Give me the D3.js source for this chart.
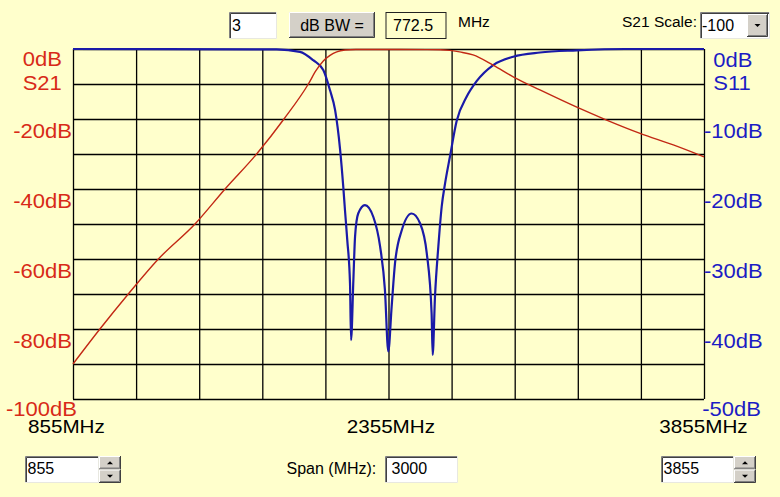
<!DOCTYPE html>
<html>
<head>
<meta charset="utf-8">
<script src="https://cdn.jsdelivr.net/npm/d3@7/dist/d3.min.js"></script>
<style>
html,body{margin:0;padding:0;background:#ffffcc;}
svg{display:block;font-family:"Liberation Sans",Arial,sans-serif;}
</style>
</head>
<body>
<svg id="c" width="780" height="497"></svg>
<script>
// ---------- data ----------
const freqStart = 855, freqStop = 3855, freqCenter = 2355, span = 3000;
const bwLevel = "3", bwValue = "772.5", s21Scale = "-100";
const freqLabels = ["855MHz", "2355MHz", "3855MHz"];
const freqLabelValues = [855, 2355, 3855];
const s21TickValues = [-20, -40, -60, -80];
const s11TickValues = [-10, -20, -30, -40];

const s21Freq = [855, 983, 1118, 1261, 1435, 1578, 1728, 1858, 1974, 2010, 2045, 2077, 2109, 2148, 2200, 2410, 2600, 2647, 2700, 2757, 2852, 2952, 3075, 3253, 3392, 3551, 3709, 3855];
const s21dB   = [-90.0, -80.0, -70.0, -60.0, -50.0, -40.0, -30.0, -20.0, -10.0, -6.2, -3.4, -1.8, -0.8, -0.3, -0.15, -0.15, -0.2, -0.4, -0.9, -1.7, -4.6, -8.1, -11.7, -16.7, -20.3, -24.1, -27.4, -30.8];

const s11Freq = [855, 1823, 1934, 1997, 2045, 2077, 2101, 2125, 2140, 2148, 2159, 2172, 2177, 2188, 2196, 2211, 2243, 2283, 2315, 2338, 2354, 2370, 2386, 2418, 2465, 2505, 2537, 2560, 2565, 2576, 2592, 2608, 2624, 2647, 2679, 2727, 2774, 2853, 2948, 3075, 3250, 3479, 3855];
const s11dB   = [0, -0.05, -0.4, -1.6, -3.0, -5.9, -8.7, -14.4, -19.7, -23, -27.3, -33.5, -41.6, -33, -26.8, -23.5, -22.3, -24.0, -28.2, -34.4, -43.2, -36.8, -30.6, -25.9, -23.5, -24.9, -29.2, -37.8, -43.7, -35.4, -28.2, -22.5, -19.2, -15.4, -10.3, -6.8, -4.6, -2.3, -1.1, -0.5, -0.2, 0, 0];

// ---------- layout ----------
const svg = d3.select("#c");
const L = 73, R = 704, T = 49, B = 399;
const x = d3.scaleLinear().domain([freqStart, freqStop]).range([L, R]);
const yL = d3.scaleLinear().domain([0, -100]).range([T, B]);
const yR = d3.scaleLinear().domain([0, -50]).range([T, B]);

const red = "#d82a18", redLine = "#c22814", blue = "#1c1cc4", blueLine = "#1a1aa8";

svg.append("rect").attr("width", 780).attr("height", 497).attr("fill", "#ffffcc");

function txt(x0, y0, s, size, color, anchor, sx) {
  return svg.append("text")
    .attr("transform", `translate(${x0},${y0}) scale(${sx || 1},1)`)
    .attr("text-anchor", anchor || "start")
    .attr("font-size", size)
    .attr("fill", color)
    .text(s);
}

// ---------- grid ----------
const gx = svg.append("g").attr("transform", `translate(0,${B})`)
  .call(d3.axisBottom(x).tickValues(d3.range(freqStart, freqStop + 1, span / 10)).tickSize(-(B - T)).tickFormat(""));
const gy = svg.append("g").attr("transform", `translate(${L},0)`)
  .call(d3.axisLeft(yL).tickValues(d3.range(0, -101, -10)).tickSize(-(R - L)).tickFormat(""));
[gx, gy].forEach(g => {
  g.select(".domain").remove();
  g.selectAll("line").attr("stroke", "#000").attr("stroke-width", 1.3);
});

// ---------- curves ----------
const lineS21 = d3.line().x((d, i) => x(s21Freq[i])).y(d => yL(d)).curve(d3.curveMonotoneX);
const lineS11 = d3.line().x((d, i) => x(s11Freq[i])).y(d => yR(d)).curve(d3.curveMonotoneX);
svg.append("path").attr("d", lineS11(s11dB)).attr("fill", "none").attr("stroke", blueLine).attr("stroke-width", 2.2).attr("stroke-linejoin", "round");
svg.append("path").attr("d", lineS21(s21dB)).attr("fill", "none").attr("stroke", redLine).attr("stroke-width", 1.4);

// ---------- labels ----------
txt(22.7, 66, "0dB", 20, red, "start", 1.1);
txt(22.7, 90, "S21", 20, red, "start", 1.1);
s21TickValues.forEach(v => txt(72, yL(v) + 19, v + "dB", 20, red, "end", 1.1));
txt(6, 415.5, "-100dB", 20, red, "start", 1.1);

txt(713.3, 66.5, "0dB", 20, blue, "start", 1.1);
txt(713.3, 90, "S11", 20, blue, "start", 1.1);
s11TickValues.forEach(v => txt(704, yR(v) + 18.5, v + "dB", 20, blue, "start", 1.1));
txt(702.3, 415.5, "-50dB", 20, blue, "start", 1.1);

const freqStarts = [28, 346.7, 659.3];
freqLabels.forEach((s, i) => txt(freqStarts[i], 432.5, s, 17.5, "#000", "start", 1.18));

// ---------- widgets ----------
function sunken(x0, y0, w, h, fill) {
  svg.append("rect").attr("x", x0).attr("y", y0).attr("width", w).attr("height", h).attr("fill", fill || "#fff");
  svg.append("path").attr("d", `M${x0 + 0.5},${y0 + h}V${y0 + 0.5}H${x0 + w}`).attr("stroke", "#808080").attr("fill", "none");
  svg.append("path").attr("d", `M${x0 + 1.5},${y0 + h - 1}V${y0 + 1.5}H${x0 + w - 1}`).attr("stroke", "#404040").attr("fill", "none");
  svg.append("path").attr("d", `M${x0},${y0 + h - 0.5}H${x0 + w - 0.5}V${y0}`).attr("stroke", "#e8e8e0").attr("fill", "none");
}
function raised(x0, y0, w, h) {
  svg.append("rect").attr("x", x0).attr("y", y0).attr("width", w).attr("height", h).attr("fill", "#d4d0c8");
  svg.append("path").attr("d", `M${x0 + 0.5},${y0 + h}V${y0 + 0.5}H${x0 + w}`).attr("stroke", "#ffffff").attr("fill", "none");
  svg.append("path").attr("d", `M${x0},${y0 + h - 0.5}H${x0 + w - 0.5}V${y0}`).attr("stroke", "#404040").attr("fill", "none");
  svg.append("path").attr("d", `M${x0 + 1},${y0 + h - 1.5}H${x0 + w - 1.5}V${y0 + 1}`).attr("stroke", "#808080").attr("fill", "none");
}
function tri(cx, cy, up) {
  const d = up ? `M${cx - 3},${cy + 1.5}L${cx + 3},${cy + 1.5}L${cx},${cy - 1.5}Z` : `M${cx - 3},${cy - 1.5}L${cx + 3},${cy - 1.5}L${cx},${cy + 1.5}Z`;
  svg.append("path").attr("d", d).attr("fill", "#000");
}
function spin(x0, y0, w, h) {
  raised(x0, y0, w, h / 2);
  raised(x0, y0 + h / 2, w, h / 2);
  tri(x0 + w / 2, y0 + h / 4, true);
  tri(x0 + w / 2, y0 + 3 * h / 4, false);
}

// top row
sunken(229, 12, 48, 27);
txt(232, 30.5, bwLevel, 16, "#000");
raised(289, 12, 86, 26);
txt(332, 30.5, "dB BW =", 16, "#000", "middle");
svg.append("rect").attr("x", 386).attr("y", 12.5).attr("width", 60).attr("height", 26).attr("fill", "none").attr("stroke", "#222");
txt(393, 30.5, bwValue, 16, "#000");
txt(458, 27, "MHz", 15.5, "#000");
txt(622, 27, "S21 Scale:", 15.5, "#000");
sunken(700, 12, 70, 27);
txt(702, 30.5, s21Scale, 16, "#000");
raised(747, 14, 21, 23);
tri(757.5, 25.5, false);

// bottom row
sunken(25, 456, 74, 27);
txt(27.5, 473.5, String(freqStart), 16, "#000");
spin(99, 456, 22, 27);
txt(286.5, 474, "Span (MHz):", 16, "#000");
sunken(385, 456, 73, 27);
txt(391.5, 474, String(span), 16, "#000");
sunken(661, 456, 73, 27);
txt(663.5, 473.5, String(freqStop), 16, "#000");
spin(734, 456, 22, 27);
</script>
</body>
</html>
